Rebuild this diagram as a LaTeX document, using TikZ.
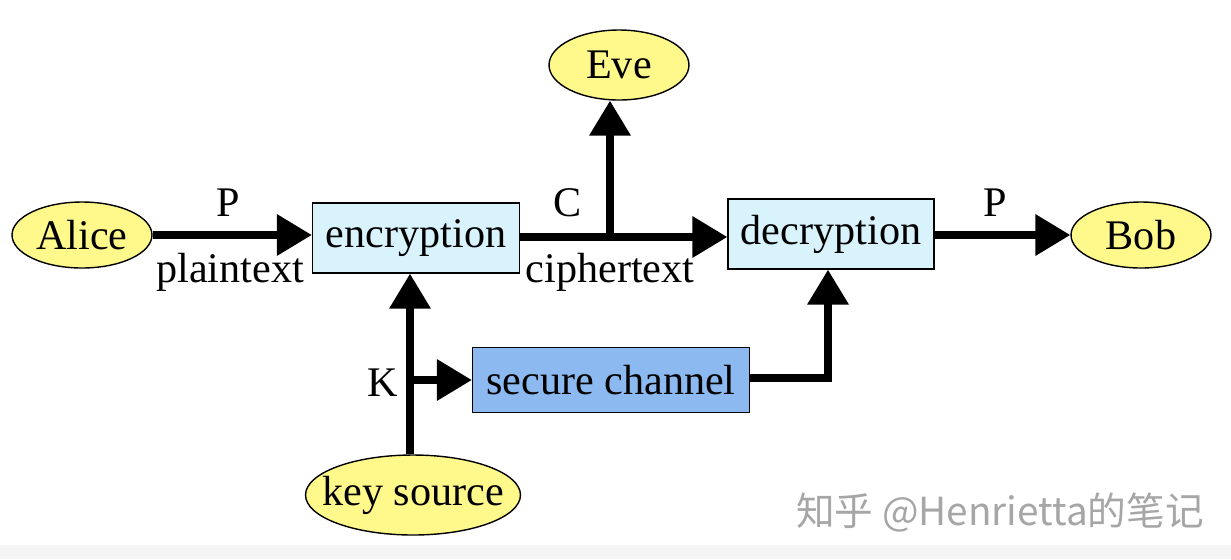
\documentclass[tikz,border=0pt]{standalone}
\usepackage{fontspec}
\setmainfont{Liberation Serif}
\newfontfamily\cjk{Noto Sans CJK SC}
\usetikzlibrary{shapes.geometric,arrows.meta}
\begin{document}
\begin{tikzpicture}[x=0.02cm,y=-0.02cm,
  every node/.style={font=\fontsize{24}{28}\selectfont},
  ell/.style={ellipse,draw,fill=yellow!45,line width=0.8pt,inner sep=0pt},
  box/.style={rectangle,draw,fill=cyan!15,line width=0.8pt,inner sep=0pt},
  arr/.style={line width=4pt,-{Triangle[length=0.7cm,width=0.8cm]}},
  ln/.style={line width=4pt}]
\useasboundingbox (0,0) rectangle (1231,559);
\fill[gray!8] (0,545) rectangle (1231,559);
\node[ell,minimum width=2.8cm,minimum height=1.32cm] (alice) at (82,235) {Alice};
\node[ell,minimum width=2.8cm,minimum height=1.4cm] (eve) at (619,65) {Eve};
\node[ell,minimum width=2.8cm,minimum height=1.32cm] (bob) at (1141,235) {Bob};
\node[ell,inner xsep=-22pt,inner ysep=-6pt,minimum width=4.3cm,minimum height=1.6cm] (key) at (413,495) {key source};
\node[box,minimum width=4.14cm,minimum height=1.4cm] (enc) at (416,238) {encryption};
\node[box,minimum width=4.12cm,minimum height=1.4cm] (dec) at (831,234) {decryption};
\node[box,fill={rgb,255:red,140;green,185;blue,240},minimum width=5.54cm,minimum height=1.3cm] (sec) at (611,380) {secure channel};
\coordinate (br) at (610,237);
\coordinate (kb) at (410,380);
\coordinate (sc) at (828,378);
\draw[arr] (alice.east) -- (enc.west|-alice.east);
\draw[ln] (enc.east|-br) -- (br);
\draw[arr] (br) -- (dec.west|-br);
\draw[arr] (br) -- (br|-eve.south);
\draw[arr] (dec.east|-bob.west) -- (bob.west);
\draw[arr] (key.north-|kb) -- (kb|-enc.south);
\draw[arr] (kb) -- (sec.west|-kb);
\draw[arr] (sec.east|-sc) -- (sc) -- (sc|-dec.south);
\node (p1) at (228,203) {P};
\node (pt) at (230,272) {plaintext};
\node (c) at (568,203) {C};
\node (ct) at (610,272) {ciphertext};
\node (p2) at (995,203) {P};
\node (k) at (383,383) {K};
\node[text=gray!70,font=\cjk\fontsize{22}{26}\selectfont] (wm) at (1000,512) {知乎 @Henrietta的笔记};
\end{tikzpicture}
\end{document}
